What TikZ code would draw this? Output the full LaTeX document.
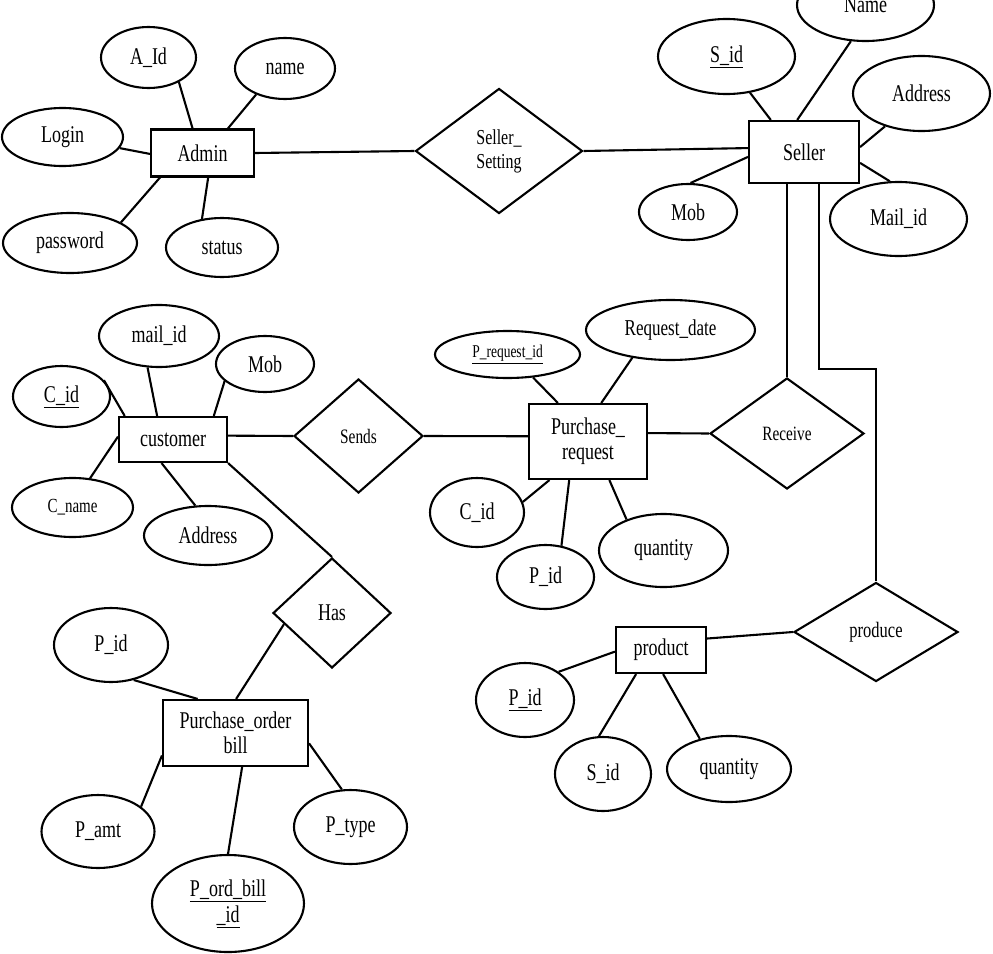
\documentclass[tikz,border=0pt]{standalone}
\usepackage{fontspec}
\setmainfont{Liberation Serif}[FakeStretch=0.75]
\usetikzlibrary{shapes.geometric,calc}
\tikzset{
  every node/.style={font=\fontsize{24}{25}\selectfont, inner sep=0pt, align=center},
  sz/.style 2 args={minimum width=#1pt, minimum height=#2pt},
  attr/.style={draw, ellipse, line width=2.1pt},
  ent/.style={draw, rectangle, line width=2.1pt},
  rel/.style={draw, diamond, line width=2.1pt},
  conn/.style={line width=2.1pt},
}
\begin{document}
\begin{tikzpicture}[x=1pt, y=-1pt]
\useasboundingbox (0,0) rectangle (993,953);
\clip (0,0) rectangle (993,953);
\fill[white] (0,0) rectangle (993,953);

% ---------- Admin ----------
\node[ent, sz={103}{47}] (admin) at (202.5,153) {Admin};
\node[attr, sz={95}{61}] (aid) at (148.5,57.5) {A\_Id};
\node[attr, sz={100}{61}] (aname) at (285,68.5) {name};
\node[attr, sz={121}{58}] (login) at (62.5,137) {Login};
\node[attr, sz={134}{60}] (pwd) at (70,243) {password};
\node[attr, sz={112}{59}] (status) at (222,247.5) {status};

\draw[conn] (aid.-39) -- (admin.112);
\draw[conn] (aname.-138) -- (admin.44);
\draw[conn] (login.-11) -- (admin.181);
\draw[conn] (pwd.22) -- (admin.210);
\draw[conn] (status.125) -- (admin.-77);

% ---------- Seller_Setting ----------
\node[rel, sz={167}{125}, font=\fontsize{21.3}{24}\selectfont] (ss) at (499,151) {Seller\_\\Setting};
\draw[conn] (admin.east) -- (ss.west);

% ---------- Seller ----------
\node[ent, sz={110}{62}] (seller) at (804,152) {Seller};
\node[attr, sz={137}{75}] (sid) at (726.5,56.5) {\underline{S\_id}};
\node[attr, sz={137}{72}] (sname) at (865.5,5) {Name};
\node[attr, sz={137}{75}] (saddr) at (921.5,93.5) {Address};
\node[attr, sz={98}{56}] (smob) at (688,212) {Mob};
\node[attr, sz={137}{74}] (smail) at (898.5,219) {Mail\_id};

\draw[conn] (ss.east) -- (seller.176);
\draw[conn] (sid.-57) -- (seller.136);
\draw[conn] (sname.-112) -- (seller.102);
\draw[conn] (saddr.-138) -- (seller.5);
\draw[conn] (smail.103) -- (seller.-11);
\draw[conn] (smob.85) -- (seller.185);

% ---------- customer ----------
\node[ent, sz={108}{45}] (cust) at (173,439.5) {customer};
\node[attr, sz={97}{61}] (cid) at (61.5,396.5) {\underline{C\_id}};
\node[attr, sz={120}{62}] (cmail) at (159,336) {mail\_id};
\node[attr, sz={98}{56}] (cmob) at (265,364) {Mob};
\node[attr, sz={121}{59}, font=\fontsize{20}{22}\selectfont] (cname) at (72.5,507.5) {C\_name};
\node[attr, sz={128}{59}] (caddr) at (208,535.5) {Address};

\draw[conn] (cid.21) -- (cust.154);
\draw[conn] (cmail.-110) -- (cust.124);
\draw[conn] (cmob.-157) -- (cust.30);
\draw[conn] (cname.59) -- (cust.177);
\draw[conn] (caddr.113) -- (cust.-116);

% ---------- Sends ----------
\node[rel, sz={129}{114}, font=\fontsize{20.5}{22}\selectfont] (sends) at (358.5,436) {Sends};
\draw[conn] (cust.4) -- (sends.west);

% ---------- Purchase_request ----------
\node[ent, sz={118}{75}] (pr) at (588,441.5) {Purchase\_\\request};
\node[attr, sz={145}{47}, font=\fontsize{18}{20}\selectfont] (preq) at (507.5,354.5) {\underline{P\_request\_id}};
\node[attr, sz={169}{60}, font=\fontsize{22.7}{24}\selectfont] (rdate) at (670.5,330) {Request\_date};
\node[attr, sz={94}{69}] (prcid) at (477,512.5) {C\_id};
\node[attr, sz={97}{64}] (prpid) at (545.5,577) {P\_id};
\node[attr, sz={129}{73}] (prqty) at (663.5,550.5) {quantity};

\draw[conn] (sends.east) -- (pr.175);
\draw[conn] (preq.-42) -- (pr.128);
\draw[conn] (rdate.-144) -- (pr.71);
\draw[conn] (prcid.13) -- (pr.-135);
\draw[conn] (prpid.63) -- (pr.-116);
\draw[conn] (prqty.140) -- (pr.-61);

% ---------- Receive ----------
\node[rel, sz={154}{111}, font=\fontsize{20.3}{22}\selectfont] (recv) at (787,433.5) {Receive};
\draw[conn] (pr.8) -- (recv.west);
\draw[conn] (seller.south -| recv.north) -- (recv.north);

% ---------- Has / Purchase_order bill ----------
\node[rel, sz={118}{110}] (has) at (332,613) {Has};
\draw[conn] (cust.south east) -- (has.north);
\node[ent, sz={145}{66}] (pob) at (235.5,733) {Purchase\_order\\bill};
\draw[conn] ($(has.west)!0.2!(has.south)$) -- (pob.89);

\node[attr, sz={114}{74}] (bpid) at (111,645) {P\_id};
\node[attr, sz={113}{73}] (bamt) at (98,831.5) {P\_amt};
\node[attr, sz={152}{97}, font=\fontsize{24}{26}\selectfont] (bord) at (228,903.5) {\underline{P\_ord\_bill}\\\underline{\_id}};
\node[attr, sz={113}{74}] (btype) at (350.5,827) {P\_type};

\draw[conn] (bpid.-57) -- (pob.138);
\draw[conn] (bamt.30) -- (pob.197);
\draw[conn] (bord.90) -- (pob.-79);
\draw[conn] (btype.103) -- (pob.-8);

% ---------- product / produce ----------
\node[ent, sz={90}{46}] (prod) at (661,650) {product};
\node[rel, sz={164}{99}, font=\fontsize{22}{24}\selectfont] (produce) at (876,632) {produce};
\node[attr, sz={98}{74}] (ppid) at (525,700) {\underline{P\_id}};
\node[attr, sz={96}{74}] (psid) at (603,774) {S\_id};
\node[attr, sz={124}{66}] (pqty) at (729,769) {quantity};

\draw[conn] (prod.14) -- (produce.west);
\draw[conn] (ppid.40) -- (prod.182);
\draw[conn] (psid.96) -- (prod.-136);
\draw[conn] (pqty.134) -- (prod.-85);

\coordinate (bend) at (819,369);
\draw[conn] (seller.south -| bend) -- (bend) -| (produce.north);

\end{tikzpicture}
\end{document}
